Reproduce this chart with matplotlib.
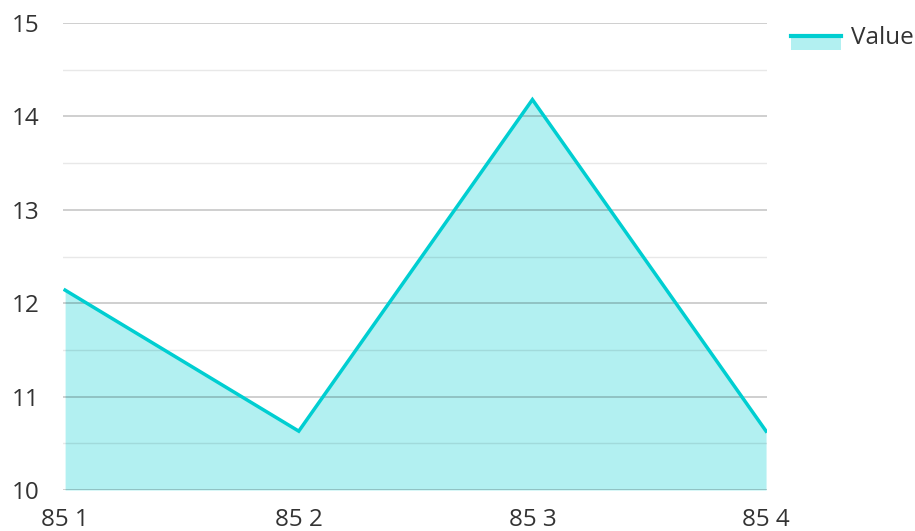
import matplotlib
matplotlib.use("Agg")
import matplotlib.pyplot as plt
from matplotlib.legend_handler import HandlerBase
from matplotlib.lines import Line2D
from matplotlib.patches import Rectangle

plt.rcParams["font.family"] = ["Open Sans", "DejaVu Sans"]

categories = ["85 1", "85 2", "85 3", "85 4"]
values = [12.14, 10.63, 14.18, 10.63]
y_ticks = [10, 11, 12, 13, 14, 15]

LINE_COLOR = "#00CED1"
TEXT_COLOR = "#333333"


class AreaHandler(HandlerBase):
    """Legend key: a filled band with the line on its top edge."""

    def create_artists(self, legend, orig_handle, xdescent, ydescent,
                       width, height, fontsize, trans):
        shift = 5.0  # points; drop the key a little below the text centre
        top = height - shift
        patch = Rectangle((-xdescent, -ydescent - shift), width, height,
                          facecolor=LINE_COLOR, alpha=0.3, edgecolor="none",
                          transform=trans)
        line = Line2D([-xdescent, -xdescent + width], [top, top],
                      color=LINE_COLOR, lw=3.0, transform=trans)
        return [patch, line]


fig = plt.figure(figsize=(9.15, 5.31), dpi=100)
ax = fig.add_axes([63 / 915, 1 - 490 / 531, (767 - 63) / 915, (490 - 23) / 531])

x = list(range(len(categories)))
ax.fill_between(x, values, 10, color=LINE_COLOR, alpha=0.3, lw=0, zorder=1)
ax.plot(x, values, color=LINE_COLOR, lw=2.5, zorder=3, solid_joinstyle="miter")

ax.set_xlim(-0.009, 3.004)
ax.set_ylim(10, 15)
ax.set_yticks(y_ticks)
ax.set_yticks([v + 0.5 for v in y_ticks[:-1]], minor=True)
ax.set_xticks(x)
ax.set_xticklabels(categories)

ax.grid(axis="y", which="major", color="black", alpha=0.22, lw=1.2, zorder=2)
ax.grid(axis="y", which="minor", color="black", alpha=0.09, lw=1.0, zorder=2)
ax.set_axisbelow(False)

for side in ["top", "right", "left", "bottom"]:
    ax.spines[side].set_visible(False)

ax.tick_params(axis="y", which="both", length=0, pad=17, labelsize=17.5,
               labelcolor=TEXT_COLOR)
ax.tick_params(axis="x", length=0, pad=13, labelsize=17.5, labelcolor=TEXT_COLOR)

handle = Rectangle((0, 0), 1, 1)
fig.legend([handle], ["Value"], handler_map={Rectangle: AreaHandler()},
           loc="upper left", bbox_to_anchor=(791 / 915, 1 - 26 / 531),
           frameon=False, fontsize=17.5, labelcolor=TEXT_COLOR,
           borderpad=0, borderaxespad=0,
           handlelength=2.05, handleheight=0.55, handletextpad=0.4)

fig.savefig("out.png", dpi=100)
plt.close(fig)
